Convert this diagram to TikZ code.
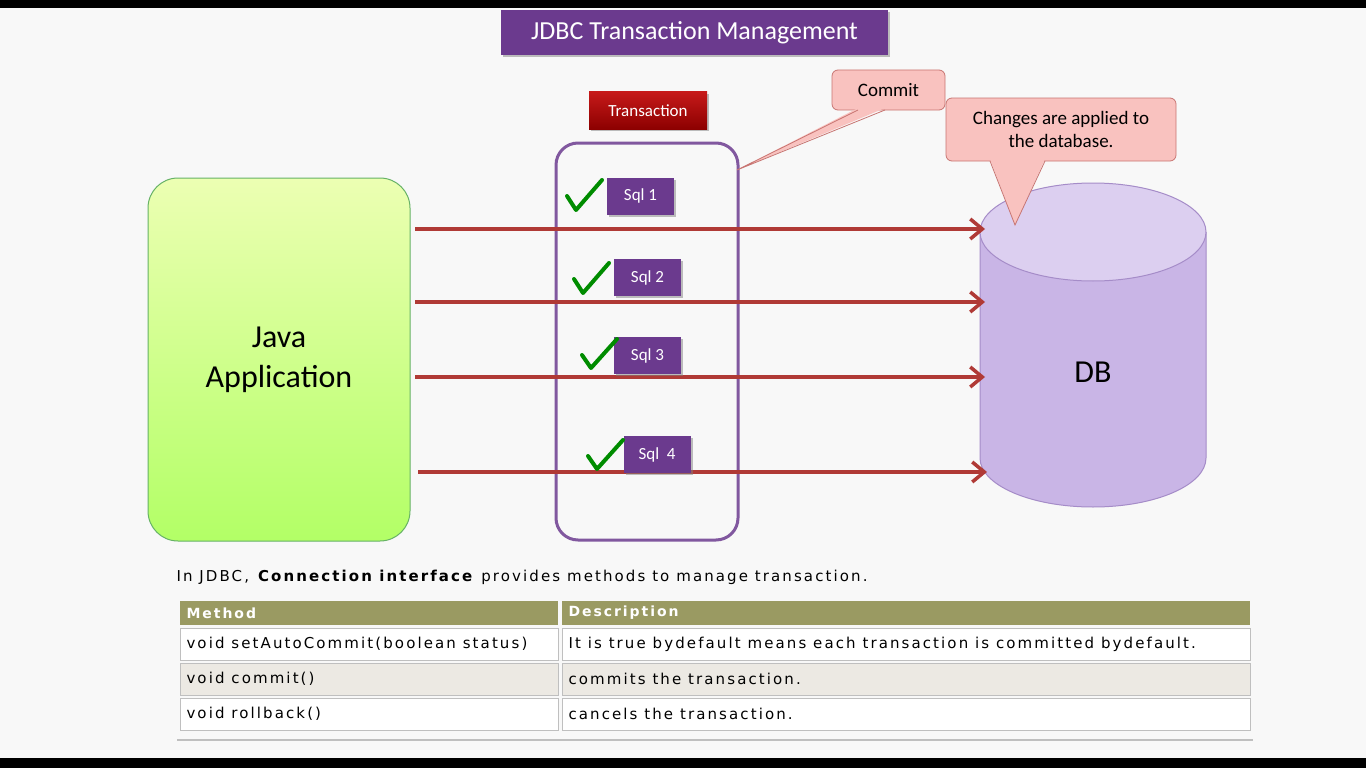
\documentclass[tikz,border=0pt]{standalone}
\usepackage{fontspec}
\setmainfont{Carlito}
\newfontfamily\vfont[LetterSpace=14]{DejaVu Sans}
\usetikzlibrary{shapes.geometric,arrows.meta,shadows}
\definecolor{bg}{HTML}{F8F8F8}
\definecolor{ttl}{HTML}{6B3A8E}
\definecolor{arr}{HTML}{B03A36}
\definecolor{olive}{HTML}{9A9A62}
\definecolor{rowb}{HTML}{ECE9E3}
\definecolor{pinkc}{HTML}{F6A8A4}
\definecolor{dbside}{HTML}{C9B5E6}
\definecolor{dbtop}{HTML}{DCCFF0}
\definecolor{dbline}{HTML}{A58CC8}
\begin{document}
\begin{tikzpicture}[x=1pt,y=-1pt,
  sqlbox/.style={draw=none,fill=ttl,text=white,minimum width=67pt,minimum height=37pt,font=\fontsize{17}{20}\selectfont,drop shadow},
  callout/.style={fill=pinkc!70,draw=arr!70,line width=0.8pt,rounded corners=6pt},
  flow/.style={arr,line width=4pt,-{Straight Barb[length=12pt,width=20pt,line width=3.5pt]}},
  chk/.style={draw=green!55!black,line width=4pt,line cap=round,line join=round},
  cell/.style={draw=black!25,line width=1pt},
  ctext/.style={anchor=west,font=\vfont\fontsize{15}{17}\selectfont}]
\useasboundingbox (0,0) rectangle (1366,768);
\fill[bg] (0,0) rectangle (1366,768);
\fill[black] (0,0) rectangle (1366,8);
\fill[black] (0,758) rectangle (1366,768);
% title
\node[fill=ttl,text=white,minimum width=387pt,minimum height=45pt,font=\fontsize{26}{28}\selectfont,drop shadow] (title) at (694.5,32.5) {JDBC Transaction Management};
\node[top color=red!75!black!90,bottom color=red!55!black,text=white,minimum width=118pt,minimum height=37pt,font=\fontsize{17}{20}\selectfont,drop shadow] (trl) at (648,110.5) {Transaction};
% java app
\node[draw=green!50!black!60,line width=1pt,rounded corners=30pt,top color=green!25!yellow!30,bottom color=green!50!yellow!60,minimum width=262pt,minimum height=363pt,font=\fontsize{32}{40}\selectfont,align=center] (java) at (279,359.5) {Java\\Application};
% transaction box
\node[draw=ttl!85,line width=3pt,rounded corners=22pt,minimum width=182pt,minimum height=397pt] (tbox) at (647,341.5) {};
% DB cylinder
\fill[dbside] (980,232) -- (980,458) arc[start angle=180,end angle=0,x radius=113,y radius=49] -- (1206,232) -- cycle;
\draw[dbline,line width=1pt] (980,232) -- (980,458) arc[start angle=180,end angle=0,x radius=113,y radius=49] -- (1206,232);
\draw[dbline,fill=dbtop,line width=1pt] (1093,232) ellipse[x radius=113,y radius=49];
\node[font=\fontsize{32}{36}\selectfont] (db) at (1093,372) {DB};
% arrows
\coordinate (a1) at (415,229); \coordinate (b1) at (985,229);
\coordinate (a2) at (415,302); \coordinate (b2) at (985,302);
\coordinate (a3) at (415,377); \coordinate (b3) at (985,377);
\coordinate (a4) at (418,472); \coordinate (b4) at (987,472);
\draw[flow] (a1) -- (b1);
\draw[flow] (a2) -- (b2);
\draw[flow] (a3) -- (b3);
\draw[flow] (a4) -- (b4);
% sql boxes
\node[sqlbox] (s1) at (640.5,196) {Sql 1};
\node[sqlbox] (s2) at (647.5,277.5) {Sql 2};
\node[sqlbox] (s3) at (647.5,355.5) {Sql 3};
\node[sqlbox] (s4) at (657,454.5) {Sql\ \ 4};
% checks
\draw[chk] (567,196) -- (576,210) -- (602,180);
\draw[chk] (574,279) -- (583,293) -- (609,263);
\draw[chk] (582,355) -- (591,368) -- (617,339);
\draw[chk] (588,456) -- (597,469) -- (623,440);
% callouts
\coordinate (cp) at (737,170);
\draw[callout] (832,70) rectangle (945,110);
\fill[pinkc!70] (858,108) -- (cp) -- (885,108) -- cycle;
\draw[arr!70,line width=0.8pt] (858,110) -- (cp) -- (885,110);
\node[font=\fontsize{19}{22}\selectfont] (commit) at (888.5,90) {Commit};
\draw[callout] (946,98) rectangle (1176,161);
\fill[pinkc!70] (990,159) -- (1015,225) -- (1045,159) -- cycle;
\draw[arr!70,line width=0.8pt] (990,161) -- (1015,225) -- (1045,161);
\node[font=\fontsize{19}{23}\selectfont,align=center] (chg) at (1061,129.5) {Changes are applied to\\the database.};
% text
\node[ctext] (intro) at (173,577) {In JDBC, \textbf{Connection interface} provides methods to manage transaction.};
% table
\fill[olive] (180,601) rectangle (558,625);
\fill[olive] (562,601) rectangle (1250,625);
\node[ctext,text=white,font=\vfont\bfseries\fontsize{14}{16}\selectfont] (h1) at (183,613) {Method};
\node[ctext,text=white,font=\vfont\bfseries\fontsize{14}{16}\selectfont] (h2) at (565,613) {Description};
\draw[cell,fill=white] (180,628) rectangle (558,660);
\draw[cell,fill=white] (562,628) rectangle (1250,660);
\draw[cell,fill=rowb] (180,663) rectangle (558,695);
\draw[cell,fill=rowb] (562,663) rectangle (1250,695);
\draw[cell,fill=white] (180,698) rectangle (558,730);
\draw[cell,fill=white] (562,698) rectangle (1250,730);
\node[ctext] (m1) at (183,644) {void setAutoCommit(boolean status)};
\node[ctext] (d1) at (565,644) {It is true bydefault means each transaction is committed bydefault.};
\node[ctext] (m2) at (183,679) {void commit()};
\node[ctext] (d2) at (565,679) {commits the transaction.};
\node[ctext] (m3) at (183,714) {void rollback()};
\node[ctext] (d3) at (565,714) {cancels the transaction.};
\draw[black!25,line width=1.5pt] (177,740) -- (1253,740);
\end{tikzpicture}
\end{document}
